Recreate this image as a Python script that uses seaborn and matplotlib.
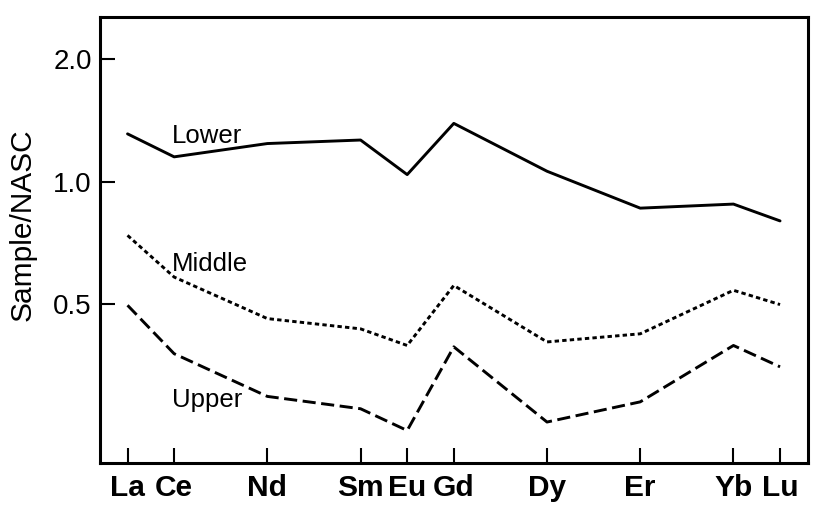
import pandas as pd
import matplotlib
matplotlib.use("Agg")
import matplotlib.pyplot as plt
import seaborn as sns

# REE normalised to NASC, three zones of the profile
elements = ['La', 'Ce', 'Nd', 'Sm', 'Eu', 'Gd', 'Dy', 'Er', 'Yb', 'Lu']
atomic_no = [57, 58, 60, 62, 63, 64, 66, 68, 70, 71]
lower = [1.31, 1.15, 1.24, 1.265, 1.04, 1.39, 1.06, 0.86, 0.88, 0.80]
middle = [0.737, 0.582, 0.46, 0.434, 0.395, 0.555, 0.403, 0.422, 0.54, 0.498]
upper = [0.496, 0.377, 0.296, 0.276, 0.244, 0.392, 0.256, 0.287, 0.395, 0.35]
zones = ['Lower', 'Middle', 'Upper']
y_ticks = [0.5, 1.0, 2.0]
y_ticklabels = ['0.5', '1.0', '2.0']

rows = []
for zone, vals in zip(zones, [lower, middle, upper]):
    for el, z, v in zip(elements, atomic_no, vals):
        rows.append({'zone': zone, 'element': el, 'Z': z, 'value': v})
df = pd.DataFrame(rows)

sns.set_style("white")
plt.rcParams['font.family'] = ['Liberation Sans', 'DejaVu Sans']
plt.rcParams['text.color'] = 'black'
plt.rcParams['axes.labelcolor'] = 'black'
plt.rcParams['xtick.color'] = 'black'
plt.rcParams['ytick.color'] = 'black'

fig = plt.figure(figsize=(8.24, 5.13), dpi=100)
ax = fig.add_axes([0.1214, 0.0975, 0.8592, 0.8694])

sns.lineplot(data=df, x='Z', y='value', style='zone', color='black',
             dashes={'Lower': '', 'Middle': (1.5, 1.1), 'Upper': (4.5, 1.9)},
             linewidth=2.1, legend=False, ax=ax)

ax.set_yscale('log')
ax.set_ylim(0.203, 2.54)
ax.set_xlim(56.41, 71.6)
ax.set_yticks(y_ticks)
ax.set_yticklabels(y_ticklabels)
ax.yaxis.set_minor_locator(matplotlib.ticker.NullLocator())
ax.set_xticks(atomic_no)
ax.set_xticklabels(elements, fontweight='bold', fontsize=21.5)
ax.tick_params(axis='y', left=True, labelsize=20, direction='in',
               length=11, width=1.5, pad=6)
ax.tick_params(axis='x', bottom=True, direction='in', length=11,
               width=1.5, pad=8)
ax.set_xlabel('')
ax.set_ylabel('Sample/NASC', fontsize=21.5)
ax.yaxis.set_label_coords(-0.09, 0.534)

for side in ['left', 'right', 'top', 'bottom']:
    ax.spines[side].set_color('black')
    ax.spines[side].set_linewidth(2.2)

# zone labels
ax.text(57.95, 1.242, 'Lower', fontsize=18.5, va='baseline')
ax.text(57.95, 0.602, 'Middle', fontsize=18.5, va='baseline')
ax.text(57.95, 0.278, 'Upper', fontsize=18.5, va='baseline')

fig.savefig('out.png', dpi=100)
